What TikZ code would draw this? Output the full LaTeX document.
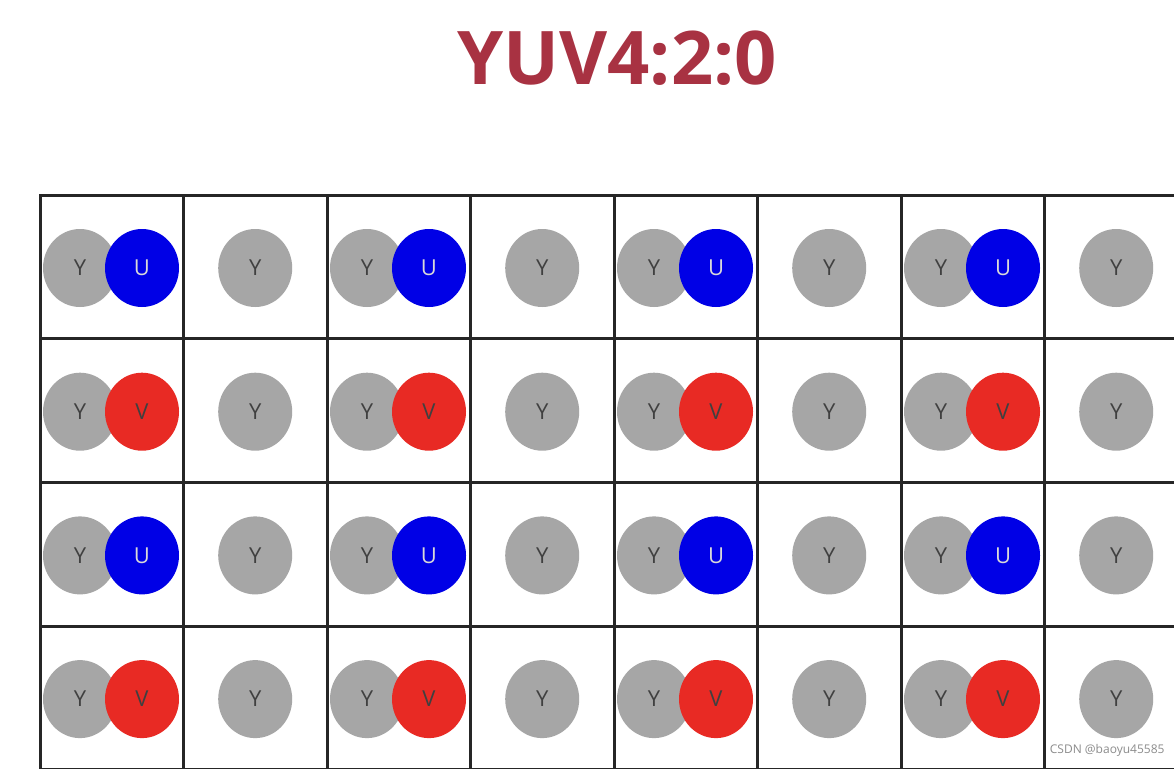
\documentclass[tikz,border=0pt]{standalone}
\usepackage{fontspec}
\setmainfont{Open Sans}
\begin{document}
\begin{tikzpicture}[x=1pt,y=-1pt,
  ydot/.style={ellipse,fill=ygray,minimum width=74pt,minimum height=78pt,inner sep=0pt,font=\fontsize{22}{22}\selectfont,text=black!75},
  udot/.style={ydot,fill=ublue,text=black!15},
  vdot/.style={ydot,fill=vred,text=black!75},
  cellbox/.style={draw=black!85,line width=3pt}]
\usetikzlibrary{shapes.geometric}
\definecolor{ygray}{HTML}{A6A6A6}
\definecolor{ublue}{HTML}{0000E6}
\definecolor{vred}{HTML}{E82A24}
\definecolor{titlered}{HTML}{A83242}
\useasboundingbox (0,0) rectangle (1174,768);
\fill[white] (0,0) rectangle (1174,768);
\node[font=\bfseries\fontsize{74}{74}\selectfont,text=titlered] (title) at (617,58) {YUV4:2:0};
\foreach \r in {0,1,2,3}{
  \foreach \c in {0,...,7}{
    \pgfmathsetmacro{\xa}{40+143.5*\c}
    \pgfmathsetmacro{\ya}{195+143.7*\r}
    \draw[cellbox] (\xa,\ya) rectangle ++(143.5,143.7);
  }
}
\foreach \r in {0,1,2,3}{
  \pgfmathsetmacro{\yc}{268+143.7*\r}
  \foreach \c in {1,3,5,7}{
    \pgfmathsetmacro{\xc}{40+143.5*\c+71.7}
    \node[ydot] (y\r\c) at (\xc,\yc) {Y};
  }
  \foreach \c in {0,2,4,6}{
    \pgfmathsetmacro{\xc}{40+143.5*\c}
    \node[ydot] (y\r\c) at (\xc+40,\yc) {Y};
    \pgfmathparse{mod(\r,2)==0?"udot":"vdot"}
    \edef\st{\pgfmathresult}
    \pgfmathparse{mod(\r,2)==0?"U":"V"}
    \edef\lt{\pgfmathresult}
    \node[\st] (c\r\c) at (\xc+102,\yc) {\lt};
  }
}
\node[anchor=south east,font=\fontsize{12}{12}\selectfont,text=black!45] (wm) at (1168,760) {CSDN @baoyu45585};
\end{tikzpicture}
\end{document}
